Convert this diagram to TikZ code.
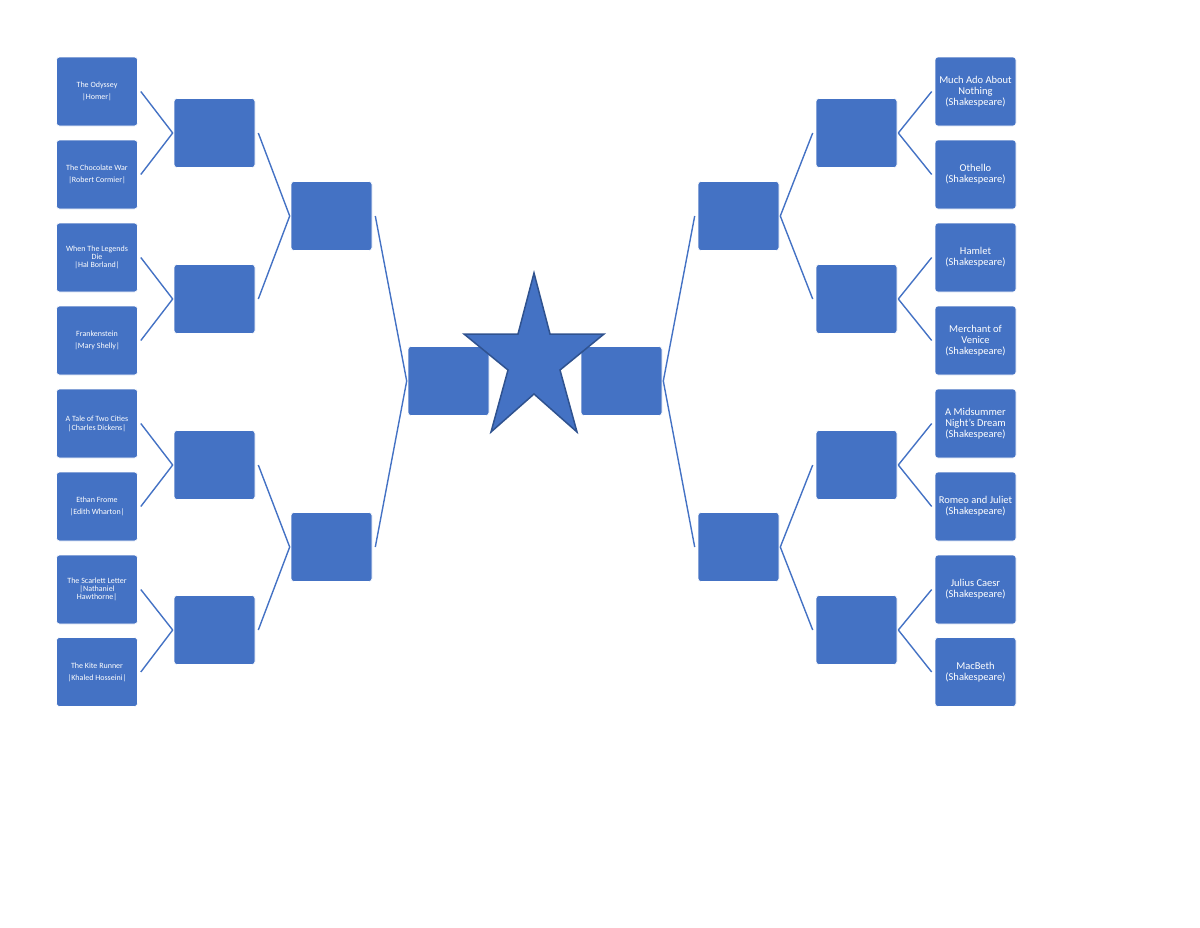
\documentclass[tikz,border=0pt]{standalone}
\usepackage{fontspec}
\setmainfont{Carlito}
\begin{document}
\begin{tikzpicture}[x=1pt,y=-1pt,
 bx/.style={draw=white,line width=0.6pt,fill={rgb,255:red,68;green,114;blue,196},rounded corners=3pt,minimum width=81pt,minimum height=69pt,inner sep=1pt,text=white,align=center,font=\fontsize{8}{12}\selectfont},
 bxr/.style={bx,font=\fontsize{10.5}{14}\selectfont},
 ln/.style={draw={rgb,255:red,68;green,114;blue,196},line width=1.4pt}]
\useasboundingbox (0,0) rectangle (1200,927);
% left
\node[bx] (l1) at (97,91.5) {The Odyssey\\|Homer|};
\node[bx] (l2) at (97,174.5) {The Chocolate War\\|Robert Cormier|};
\node[bx] (l3) at (97,257.5) {When The Legends\\[-4pt]Die\\[-4pt]|Hal Borland|};
\node[bx] (l4) at (97,340.5) {Frankenstein\\|Mary Shelly|};
\node[bx] (l5) at (97,423.5) {A Tale of Two Cities\\[-3pt]|Charles Dickens|};
\node[bx] (l6) at (97,506.5) {Ethan Frome\\|Edith Wharton|};
\node[bx] (l7) at (97,589.5) {The Scarlett Letter\\[-4pt]|Nathaniel\\[-4pt]Hawthorne|};
\node[bx] (l8) at (97,672) {The Kite Runner\\|Khaled Hosseini|};
\node[bx] (a1) at (214.5,133) {};
\node[bx] (a2) at (214.5,299) {};
\node[bx] (a3) at (214.5,465) {};
\node[bx] (a4) at (214.5,630) {};
\node[bx] (b1) at (331.5,216) {};
\node[bx] (b2) at (331.5,547) {};
\node[bx] (s1) at (448.5,381) {};
% right
\node[bxr] (r1) at (975.5,91.5) {Much Ado About\\[-3pt]Nothing\\[-3pt](Shakespeare)};
\node[bxr] (r2) at (975.5,174.5) {Othello\\[-3pt](Shakespeare)};
\node[bxr] (r3) at (975.5,257.5) {Hamlet\\[-3pt](Shakespeare)};
\node[bxr] (r4) at (975.5,340.5) {Merchant of\\[-3pt]Venice\\[-3pt](Shakespeare)};
\node[bxr] (r5) at (975.5,423.5) {A Midsummer\\[-3pt]Night's Dream\\[-3pt](Shakespeare)};
\node[bxr] (r6) at (975.5,506.5) {Romeo and Juliet\\[-3pt](Shakespeare)};
\node[bxr] (r7) at (975.5,589.5) {Julius Caesr\\[-3pt](Shakespeare)};
\node[bxr] (r8) at (975.5,672) {MacBeth\\[-3pt](Shakespeare)};
\node[bx] (c1) at (856.5,133) {};
\node[bx] (c2) at (856.5,299) {};
\node[bx] (c3) at (856.5,465) {};
\node[bx] (c4) at (856.5,630) {};
\node[bx] (d1) at (738.5,216) {};
\node[bx] (d2) at (738.5,547) {};
\node[bx] (s2) at (621.5,381) {};
% connectors left
\foreach \a/\b/\t in {l1/a1/a,l2/a1/b,l3/a2/a,l4/a2/b,l5/a3/a,l6/a3/b,l7/a4/a,l8/a4/b,a1/b1/a,a2/b1/b,a3/b2/a,a4/b2/b,b1/s1/a,b2/s1/b}{
 \draw[ln] ([xshift=3pt]\a.east) -- ([xshift=-1pt]\b.west);}
\foreach \a/\b in {r1/c1,r2/c1,r3/c2,r4/c2,r5/c3,r6/c3,r7/c4,r8/c4,c1/d1,c2/d1,c3/d2,c4/d2,d1/s2,d2/s2}{
 \draw[ln] ([xshift=-3pt]\a.west) -- ([xshift=1pt]\b.east);}
% star
\node[draw={rgb,255:red,47;green,82;blue,143},line width=1.5pt,fill={rgb,255:red,68;green,114;blue,196},shape=rectangle,inner sep=0pt,minimum size=0pt] (star) at (534,355) {};
\fill[draw={rgb,255:red,47;green,82;blue,143},line width=1.5pt,fill={rgb,255:red,68;green,114;blue,196},line join=miter]
 (534,273) -- (550,334) -- (604,334) -- (560,370) -- (577,432) -- (534,394) -- (491,432) -- (508,370) -- (464,334) -- (518,334) -- cycle;
\end{tikzpicture}
\end{document}
